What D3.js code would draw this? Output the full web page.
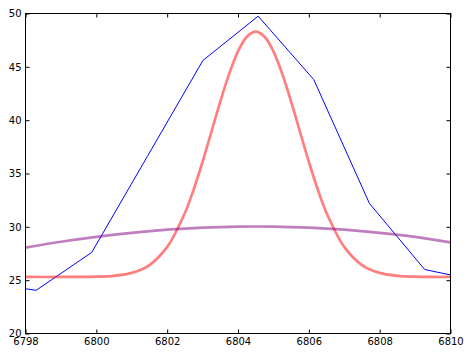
<!DOCTYPE html>
<html>
<head>
<meta charset="utf-8">
<script src="https://cdn.jsdelivr.net/npm/d3@7"></script>
<style>
  html, body { margin: 0; padding: 0; background: #fff; }
  svg { display: block; }
  text { font-family: "DejaVu Sans", sans-serif; }
</style>
</head>
<body>
<svg id="chart" width="474" height="355"></svg>
<script>
// ---- data ----
const xTicks = [6798, 6800, 6802, 6804, 6806, 6808, 6810];
const yTicks = [20, 25, 30, 35, 40, 45, 50];

// observed spectrum (blue polyline)
const obsX = [6796.73, 6798.30, 6799.87, 6801.44, 6803.01, 6804.57, 6806.14, 6807.71, 6809.27, 6810.84];
const obsY = [24.8, 24.05, 27.6, 36.6, 45.6, 49.75, 43.8, 32.2, 26.0, 24.9];

// narrow fitted profile (red)
const fitX = [6798, 6799, 6800, 6800.5, 6801, 6801.5, 6802, 6802.5, 6802.75, 6803, 6803.25, 6803.5, 6803.75,
              6804, 6804.25, 6804.5, 6804.75, 6805, 6805.25, 6805.5, 6805.75, 6806, 6806.25, 6806.5,
              6807, 6807.5, 6808, 6808.5, 6809, 6809.5, 6810];
const fitY = [25.30, 25.30, 25.33, 25.41, 25.68, 26.42, 28.12, 31.30, 33.52, 36.10, 38.91, 41.74, 44.34,
              46.45, 47.82, 48.30, 47.82, 46.45, 44.34, 41.74, 38.91, 36.10, 33.52, 31.30,
              28.12, 26.42, 25.68, 25.41, 25.33, 25.30, 25.30];

// broad profile (purple)
const broadX = [6798, 6799, 6800, 6801, 6802, 6803, 6804, 6805, 6806, 6807, 6808, 6809, 6810];
const broadY = [28.05, 28.60, 29.06, 29.44, 29.73, 29.92, 30.02, 30.02, 29.92, 29.73, 29.44, 29.06, 28.55];

// ---- drawing ----
const svg = d3.select("#chart");
const L = 25.5, R = 450.5, T = 13.5, B = 333.5;

const x = d3.scaleLinear().domain([6798, 6810]).range([L, R]);
const y = d3.scaleLinear().domain([20, 50]).range([B, T]);

svg.append("defs").append("clipPath").attr("id", "clip")
  .append("rect").attr("x", L).attr("y", T).attr("width", R - L).attr("height", B - T);

const plot = svg.append("g").attr("clip-path", "url(#clip)");

const zip = (xs, ys) => xs.map((v, i) => [v, ys[i]]);

const lineLin = d3.line().x(d => x(d[0])).y(d => y(d[1]));
const lineSmooth = d3.line().x(d => x(d[0])).y(d => y(d[1])).curve(d3.curveCatmullRom.alpha(0.5));

plot.append("path").datum(zip(obsX, obsY))
  .attr("d", lineLin).attr("fill", "none")
  .attr("stroke", "blue").attr("stroke-width", 1);

plot.append("path").datum(zip(fitX, fitY))
  .attr("d", lineSmooth).attr("fill", "none")
  .attr("stroke", "red").attr("stroke-opacity", 0.5).attr("stroke-width", 2.7);

plot.append("path").datum(zip(broadX, broadY))
  .attr("d", lineSmooth).attr("fill", "none")
  .attr("stroke", "purple").attr("stroke-opacity", 0.5).attr("stroke-width", 2.7);

// axes with inward ticks
function styleAxis(g) {
  g.select(".domain").remove();
  g.selectAll(".tick line").attr("stroke", "#000").attr("stroke-width", 1);
  g.selectAll(".tick text").attr("font-family", "DejaVu Sans, sans-serif")
    .attr("font-size", "10px").attr("fill", "#000");
}

svg.append("g").attr("transform", `translate(0,${B})`)
  .call(d3.axisBottom(x).tickValues(xTicks).tickFormat(d3.format("d"))
        .tickSizeInner(-4).tickSizeOuter(0).tickPadding(4))
  .call(styleAxis);

svg.append("g").attr("transform", `translate(0,${T})`)
  .call(d3.axisTop(x).tickValues(xTicks).tickFormat("")
        .tickSizeInner(-4).tickSizeOuter(0))
  .call(styleAxis);

svg.append("g").attr("transform", `translate(${L},0)`)
  .call(d3.axisLeft(y).tickValues(yTicks).tickFormat(d3.format("d"))
        .tickSizeInner(-4).tickSizeOuter(0).tickPadding(4))
  .call(styleAxis);

svg.append("g").attr("transform", `translate(${R},0)`)
  .call(d3.axisRight(y).tickValues(yTicks).tickFormat("")
        .tickSizeInner(-4).tickSizeOuter(0))
  .call(styleAxis);

// frame
svg.append("rect").attr("x", L).attr("y", T).attr("width", R - L).attr("height", B - T)
  .attr("fill", "none").attr("stroke", "#000").attr("stroke-width", 1);
</script>
</body>
</html>
